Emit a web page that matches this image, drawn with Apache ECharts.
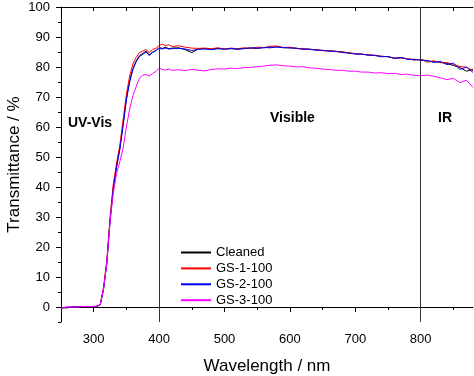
<!DOCTYPE html>
<html>
<head>
<meta charset="utf-8">
<script src="https://cdn.jsdelivr.net/npm/echarts@6/dist/echarts.min.js"></script>
<style>
  html, body { margin: 0; padding: 0; background: #fff; }
  #chart { width: 474px; height: 376px; }
</style>
</head>
<body>
<div id="chart"></div>
<script>
const wavelengths = [
  250, 260, 270, 280, 290, 300,
  305, 310, 315, 320, 325, 330, 335, 340, 345, 350, 355, 360, 365, 370,
  375, 380, 385, 390, 395, 400, 405, 410, 415, 420,
  430, 440, 450, 460, 470, 480, 490, 500, 510, 520, 530, 540, 550, 560,
  570, 580, 590, 600, 610, 620, 630, 640, 650, 660, 670, 680, 690, 700,
  710, 720, 730, 740, 750, 760, 770, 780, 790, 800, 810, 820, 830, 840,
  850, 860, 870, 880
];

const cleaned = [
  -0.3, -0.2, 0.1, 0.0, 0.2, 0.1,
  0.2, 0.8, 6.0, 14.6, 29.0, 40.0, 47.0, 53.0, 61.0, 69.5, 75.5, 79.5, 82.0, 83.8,
  84.5, 85.3, 84.0, 85.0, 85.4, 86.5, 86.2, 86.6, 86.1, 86.3,
  86.4, 85.8, 84.8, 86.0, 86.2, 85.9, 86.2, 86.0, 86.1, 85.9, 86.2, 86.3, 86.2, 86.5,
  86.4, 86.8, 86.4, 86.5, 86.2, 86.0, 85.9, 85.7, 85.5, 85.4, 85.2, 85.0, 84.6, 84.5,
  84.2, 84.1, 83.8, 83.6, 83.4, 83.0, 83.1, 82.7, 82.4, 82.5, 82.0, 81.8, 81.6, 81.2,
  80.5, 79.8, 78.6, 79.2
];

const gs1 = [
  -0.2, -0.3, 0.2, 0.1, 0.1, 0.2,
  0.3, 0.9, 6.5, 15.5, 30.0, 41.0, 48.0, 54.0, 62.5, 71.0, 77.0, 81.0, 83.2, 84.8,
  85.3, 85.8, 84.8, 85.9, 86.2, 87.2, 87.6, 87.1, 87.4, 86.8,
  87.1, 86.6, 86.3, 86.2, 86.3, 86.1, 86.4, 86.0, 86.3, 86.1, 86.4, 86.2, 86.6, 86.5,
  86.9, 87.0, 86.5, 86.6, 86.1, 86.2, 85.8, 85.8, 85.4, 85.5, 85.1, 85.1, 84.7, 84.4,
  84.3, 84.0, 83.9, 83.5, 83.5, 82.9, 83.0, 82.8, 82.3, 82.6, 81.6, 82.1, 81.4, 81.5,
  80.9, 80.2, 79.9, 78.8
];

const gs2 = [
  -0.4, -0.1, 0.0, 0.2, 0.0, 0.2,
  0.2, 0.7, 5.8, 14.5, 28.5, 39.5, 46.5, 52.5, 60.5, 69.0, 75.0, 79.2, 81.8, 83.5,
  84.2, 85.0, 83.8, 84.8, 85.5, 86.2, 86.0, 86.3, 86.0, 86.1,
  86.2, 86.0, 85.5, 85.9, 86.0, 85.8, 86.1, 85.9, 86.2, 86.0, 86.1, 86.4, 86.3, 86.4,
  86.6, 86.6, 86.5, 86.3, 86.3, 85.9, 86.0, 85.6, 85.6, 85.2, 85.3, 84.8, 84.7, 84.3,
  84.3, 83.9, 83.9, 83.4, 83.5, 82.8, 83.2, 82.5, 82.6, 82.2, 82.2, 81.5, 81.9, 80.8,
  81.3, 79.2, 80.0, 78.2
];

const gs3 = [
  -0.3, 0.1, -0.1, 0.1, 0.2, 0.0,
  0.3, 0.8, 6.0, 14.5, 28.5, 38.0, 44.5, 48.5, 53.0, 60.0, 66.0, 70.5, 73.5, 76.3,
  77.3, 77.5, 77.0, 77.8, 78.5, 79.6, 79.2, 79.0, 79.3, 78.9,
  79.1, 78.8, 79.2, 78.9, 78.7, 79.2, 79.4, 79.3, 79.6, 79.5, 79.8, 79.9, 80.1, 80.3,
  80.6, 80.7, 80.4, 80.3, 80.0, 80.1, 79.7, 79.6, 79.3, 79.2, 78.9, 78.9, 78.6, 78.6,
  78.3, 78.3, 78.0, 78.1, 77.8, 77.9, 77.5, 77.6, 77.2, 77.1, 77.3, 76.9, 76.4, 75.8,
  76.2, 74.8, 75.6, 73.2
];

const seriesNames = ["Cleaned", "GS-1-100", "GS-2-100", "GS-3-100"];
const seriesColors = ["#000000", "#ff0000", "#0000ff", "#ff00ff"];
const seriesValues = [cleaned, gs1, gs2, gs3];

// region borders
const regionLines = [400, 800];

const xMajorTicks = [300, 400, 500, 600, 700, 800];
const xMinorTicks = [250, 350, 450, 550, 650, 750, 850];
const xTopTicks = [300, 350, 400, 450, 500, 550, 600, 650, 700, 750, 800, 850];
const yMajorTicks = [0, 10, 20, 30, 40, 50, 60, 70, 80, 90, 100];
const yMinorTicks = [-5, 5, 15, 25, 35, 45, 55, 65, 75, 85, 95];

const font = "'Liberation Sans', Arial, sans-serif";

const chart = echarts.init(document.getElementById("chart"));

const xBase = { type: "value", min: 250, max: 880, splitLine: { show: false } };
const yBase = { type: "value", min: -5, max: 100, splitLine: { show: false } };

const option = {
  animation: false,
  grid: { left: 61, right: 1, top: 7, bottom: 54, outerBoundsMode: "none" },
  legend: {
    orient: "vertical",
    left: 180,
    top: 246,
    padding: 0,
    itemWidth: 30,
    itemHeight: 14,
    itemGap: 2.9,
    // hide the circle that line series put in the legend icon
    itemStyle: { opacity: 0 },
    data: seriesNames,
    textStyle: { color: "#000", fontSize: 13, fontFamily: font }
  },
  xAxis: [
    {
      ...xBase,
      position: "bottom",
      name: "Wavelength / nm",
      nameLocation: "middle",
      nameGap: 36,
      nameMoveOverlap: false,
      nameTextStyle: { color: "#000", fontSize: 17, fontFamily: font },
      axisLine: { lineStyle: { color: "#000", width: 1 } },
      axisTick: { customValues: xMajorTicks, length: 5, lineStyle: { color: "#000" } },
      axisLabel: { customValues: xMajorTicks, color: "#000", fontSize: 13, fontFamily: font, margin: 11 }
    },
    {
      ...xBase,
      position: "bottom",
      axisLine: { show: false },
      axisTick: { customValues: xMinorTicks, length: 3, lineStyle: { color: "#000" } },
      axisLabel: { show: false }
    },
    {
      ...xBase,
      position: "top",
      axisLine: { lineStyle: { color: "#000", width: 1 } },
      axisTick: { customValues: xTopTicks, inside: true, length: 4, lineStyle: { color: "#000" } },
      axisLabel: { show: false }
    }
  ],
  yAxis: [
    {
      ...yBase,
      position: "left",
      name: "Transmittance / %",
      nameLocation: "middle",
      nameGap: 38,
      nameMoveOverlap: false,
      nameTextStyle: { color: "#000", fontSize: 17, fontFamily: font },
      axisLine: { show: true, lineStyle: { color: "#000", width: 1 } },
      axisTick: { show: true, customValues: yMajorTicks, length: 5, lineStyle: { color: "#000" } },
      axisLabel: { customValues: yMajorTicks, color: "#000", fontSize: 13, fontFamily: font, margin: 11 }
    },
    {
      ...yBase,
      position: "left",
      axisLine: { show: false },
      axisTick: { show: true, customValues: yMinorTicks, length: 3, lineStyle: { color: "#000" } },
      axisLabel: { show: false }
    }
  ],
  graphic: [
    { type: "text", x: 68, y: 123, style: { text: "UV-Vis", fill: "#000", font: "bold 14px " + font, verticalAlign: "middle" } },
    { type: "text", x: 270, y: 118, style: { text: "Visible", fill: "#000", font: "bold 14px " + font, verticalAlign: "middle" } },
    { type: "text", x: 438, y: 118, style: { text: "IR", fill: "#000", font: "bold 14px " + font, verticalAlign: "middle" } }
  ],
  series: seriesNames.map((name, i) => ({
    name: name,
    type: "line",
    xAxisIndex: 0,
    yAxisIndex: 0,
    symbol: "none",
    color: seriesColors[i],
    lineStyle: { width: 1, color: seriesColors[i] },
    data: wavelengths.map((w, j) => [w, seriesValues[i][j]]),
    markLine: i === 0 ? {
      silent: true,
      symbol: "none",
      label: { show: false },
      lineStyle: { color: "#333", width: 1, type: "solid" },
      data: regionLines.map((x) => ({ xAxis: x }))
    } : undefined
  }))
};

chart.setOption(option);
</script>
</body>
</html>
